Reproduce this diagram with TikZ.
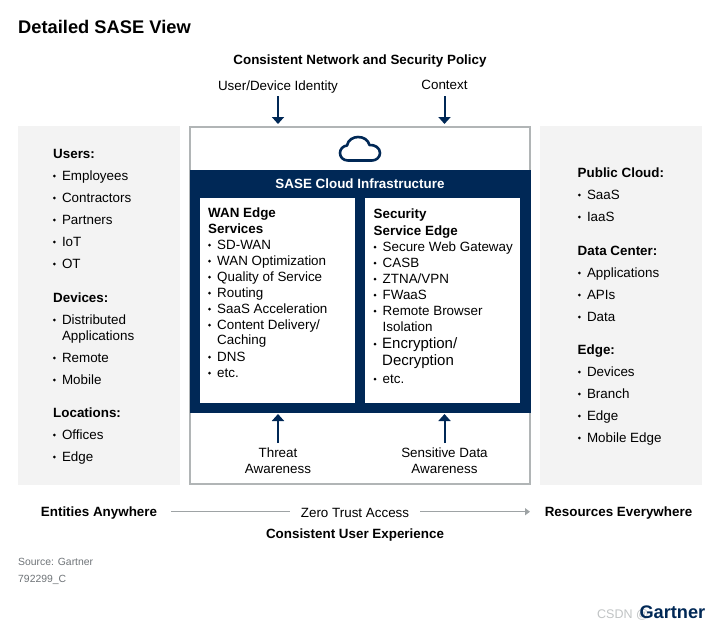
\documentclass[tikz,border=0pt]{standalone}
\usepackage{fontspec}
\setmainfont{Liberation Sans}
\usetikzlibrary{arrows.meta}
\definecolor{navy}{HTML}{002856}
\definecolor{panel}{HTML}{F3F3F3}
\definecolor{frameg}{HTML}{B1B5B6}
\definecolor{greyt}{HTML}{6F7478}
\definecolor{linegrey}{HTML}{9EA3A5}
\tikzset{
 x=1pt,y=-1pt,
 txt/.style={inner sep=0pt,anchor=base west,font=\fontsize{13.4}{13.4}\selectfont,text=black},
 ctxt/.style={txt,anchor=base},
 hd/.style={txt,font=\fontsize{13.4}{13.4}\selectfont\bfseries},
 chd/.style={hd,anchor=base},
 dot/.style={circle,fill=black,inner sep=0pt,minimum size=3pt},
 navyarrow/.style={draw=navy,line width=2pt,-{Triangle[width=12pt,length=7pt]}},
 greyarrow/.style={draw=linegrey,line width=1.2pt},
}
\newcommand{\itm}[3]{\node[dot] at (#1,#2-4) {};\node[txt] at (#1+7.5,#2) {#3};}
\newcommand{\bigitm}[3]{\node[dot] at (#1,#2-4) {};\node[txt,font=\fontsize{15}{15}\selectfont] at (#1+7,#2) {#3};}
\begin{document}
\begin{tikzpicture}
\useasboundingbox[fill=white] (0,0) rectangle (720,627);
\node[txt,font=\fontsize{18.3}{18.3}\selectfont\bfseries] (title) at (18,33) {Detailed SASE View};
\node[chd] (policy) at (360,64) {Consistent Network and Security Policy};
\node[ctxt] (identity) at (278,90) {User/Device Identity};
\node[ctxt] (context) at (444.5,89) {Context};
% panels
\fill[panel] (18,126) rectangle (180,485);
\fill[panel] (540,126) rectangle (702,485);
% centre frame
\draw[frameg,line width=1.6pt,fill=white] (190,127) rectangle (530,484);
\fill[navy] (189.5,170) rectangle (530.5,413);
\fill[white] (200,198) rectangle (355,403);
\fill[white] (365,198) rectangle (520,403);
\coordinate (frameTopL) at (278,124);
\coordinate (frameTopR) at (444.5,124);
\draw[navyarrow] (278,96) -- (frameTopL);
\draw[navyarrow] (444.5,96) -- (frameTopR);
\coordinate (navyBotL) at (278,414);
\coordinate (navyBotR) at (444.5,414);
\draw[navyarrow] (278,443) -- (navyBotL);
\draw[navyarrow] (444.5,443) -- (navyBotR);
% cloud
\draw[navy,line width=2.6pt,line join=round] (348,160.5) .. controls (343,160.5) and (340,157) .. (340,153)
 .. controls (340,149) and (343,146) .. (347,145.5)
 .. controls (348,140) and (353,137) .. (358,137)
 .. controls (364,137) and (368,140) .. (369.5,145)
 .. controls (375,144.5) and (380,148) .. (380,153)
 .. controls (380,157.5) and (376,160.5) .. (372,160.5) -- cycle;
\node[chd,text=white] (sase) at (360,188) {SASE Cloud Infrastructure};
% WAN
\node[hd] (wan1) at (208,217) {WAN Edge};
\node[hd] (wan2) at (208,233) {Services};
\itm{209.5}{249}{SD-WAN}
\itm{209.5}{265}{WAN Optimization}
\itm{209.5}{281}{Quality of Service}
\itm{209.5}{297}{Routing}
\itm{209.5}{313}{SaaS Acceleration}
\itm{209.5}{329}{Content Delivery/}
\node[txt] at (217,344) {Caching};
\itm{209.5}{361}{DNS}
\itm{209.5}{377}{etc.}
% SSE
\node[hd] (sec1) at (373.5,218) {Security};
\node[hd] (sec2) at (373.5,235) {Service Edge};
\itm{375}{251}{Secure Web Gateway}
\itm{375}{267}{CASB}
\itm{375}{283}{ZTNA/VPN}
\itm{375}{299}{FWaaS}
\itm{375}{315}{Remote Browser}
\node[txt] at (382.5,331) {Isolation};
\bigitm{375}{348}{Encryption/}
\node[txt,font=\fontsize{15}{15}\selectfont] at (382,365) {Decryption};
\itm{375}{383}{etc.}
% awareness
\node[ctxt] (threat) at (278,457) {Threat};
\node[ctxt] (threat2) at (278,473) {Awareness};
\node[ctxt] (sens) at (444.5,457) {Sensitive Data};
\node[ctxt] (sens2) at (444.5,473) {Awareness};
% left panel
\node[hd] at (53,158) {Users:};
\itm{54.3}{180}{Employees}
\itm{54.3}{202}{Contractors}
\itm{54.3}{224}{Partners}
\itm{54.3}{246}{IoT}
\itm{54.3}{268}{OT}
\node[hd] at (53,302) {Devices:};
\itm{54.3}{324}{Distributed}
\node[txt] at (61.8,340) {Applications};
\itm{54.3}{362}{Remote}
\itm{54.3}{384}{Mobile}
\node[hd] at (53,417) {Locations:};
\itm{54.3}{439}{Offices}
\itm{54.3}{461}{Edge}
% right panel
\node[hd] at (577.5,177) {Public Cloud:};
\itm{579.3}{199}{SaaS}
\itm{579.3}{221}{IaaS}
\node[hd] at (577.5,255) {Data Center:};
\itm{579.3}{277}{Applications}
\itm{579.3}{299}{APIs}
\itm{579.3}{321}{Data}
\node[hd] at (577.5,354) {Edge:};
\itm{579.3}{376}{Devices}
\itm{579.3}{398}{Branch}
\itm{579.3}{420}{Edge}
\itm{579.3}{442}{Mobile Edge}
% bottom
\node[chd] (ent) at (99,516) {Entities Anywhere};
\node[ctxt] (zero) at (355,517) {Zero Trust Access};
\node[chd] (res) at (618.5,516) {Resources Everywhere};
\node[chd] (cue) at (355,538) {Consistent User Experience};
\coordinate (lineStart) at (171,511.7);
\coordinate (lineA) at (290,511.7);
\coordinate (lineB) at (420,511.7);
\coordinate (lineEnd) at (530,511.7);
\draw[greyarrow] (lineStart) -- (lineA);
\draw[greyarrow,-{Triangle[width=7pt,length=5pt]}] (lineB) -- (lineEnd);
\node[txt,font=\fontsize{10.4}{10.4}\selectfont,text=greyt] (src) at (18,565) {Source: Gartner};
\node[txt,font=\fontsize{10.4}{10.4}\selectfont,text=greyt] (num) at (18,582) {792299\_C};
\node[txt,font=\fontsize{12.5}{12.5}\selectfont,text=frameg,opacity=.8] (wm) at (597,618) {CSDN @};
\node[txt,font=\fontsize{18.2}{18.2}\selectfont\bfseries,text=navy] (logo) at (639.3,618) {Gartner};
\end{tikzpicture}
\end{document}
